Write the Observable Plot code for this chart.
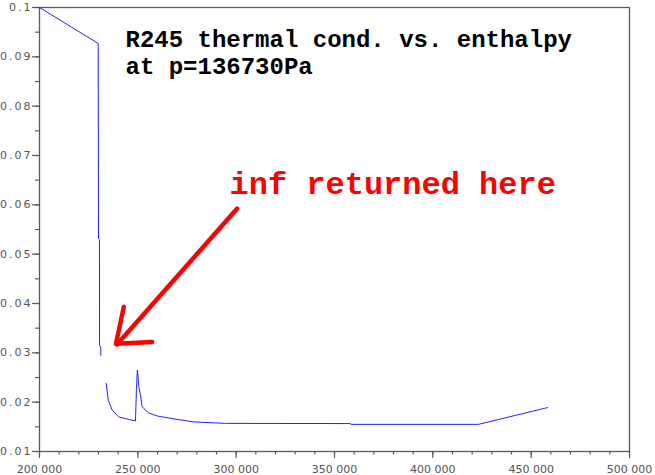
<!DOCTYPE html>
<html>
<head>
<meta charset="utf-8">
<script src="https://cdn.jsdelivr.net/npm/d3@7"></script>
<script src="https://cdn.jsdelivr.net/npm/@observablehq/plot@0.6"></script>
<style>
  body { margin: 0; background: #fff; }
  #chart svg g[aria-label="y-axis tick label"] text { letter-spacing: 2px; }
</style>
</head>
<body>
<div id="chart"></div>
<script>
// Enthalpy (J/kg) and thermal conductivity (W/m/K); null = "inf" returned (gap)
const enthalpy = [200000, 229850, 230000, 230500, 230550, 231150, 231200, 232500,
  233900, 234950, 236950, 240300, 245400, 248800, 249300, 249750, 250000, 250500,
  251350, 252200, 254800, 255600, 259850, 270000, 278300, 294600, 358100, 358300,
  423200, 458300];
const conductivity = [0.1, 0.0927, 0.0532, 0.0530, 0.0314, 0.0312, 0.0295, null,
  0.0238, 0.0204, 0.0184, 0.0170, 0.0165, 0.0162, 0.0228, 0.0265, 0.0258, 0.0231,
  0.0214, 0.0191, 0.0180, 0.0178, 0.0172, 0.0165, 0.0160, 0.0157, 0.01566, 0.0155,
  0.0155, 0.0189];

const xMajorTicks = [200000, 250000, 300000, 350000, 400000, 450000, 500000];
const xMinorTicks = d3.range(200000, 500001, 10000);
const yMajorTicks = [0.01, 0.02, 0.03, 0.04, 0.05, 0.06, 0.07, 0.08, 0.09, 0.1];
const yMinorTicks = d3.range(0.01, 0.1001, 0.005);

const titleLines = ["R245 thermal cond. vs. enthalpy", "at p=136730Pa"];
const noteText = ["inf returned here"];
const noteH = [296600];
const noteK = [0.0669];

// hand-drawn red arrow: stroke id, enthalpy, conductivity
const arrowStroke = [0, 0, 1, 1, 2, 2];
const arrowH = [300530, 239400, 242870, 238900, 238900, 257310];
const arrowK = [0.05924, 0.03170, 0.03931, 0.03186, 0.03186, 0.03222];

const lineData = enthalpy.map((h, i) => ({h, k: conductivity[i]}));
const arrowData = arrowH.map((h, i) => ({h, k: arrowK[i], s: arrowStroke[i]}));
const noteData = noteText.map((t, i) => ({t, h: noteH[i], k: noteK[i]}));

const axisColor = "#5a5a5a";
const fmtX = d => d3.format(",")(d).replace(/,/g, " ");
const fmtY = d => String(+d.toFixed(2));

const chart = Plot.plot({
  width: 655,
  height: 475,
  marginLeft: 39,
  marginRight: 26,
  marginTop: 7,
  marginBottom: 24,
  style: {fontFamily: "DejaVu Sans", fontSize: "11px", color: axisColor, background: "#fff"},
  x: {domain: [200000, 500000], label: null},
  y: {domain: [0.01, 0.1], label: null},
  marks: [
    Plot.axisX(xMinorTicks, {tickSize: 3.5, tickFormat: () => "", label: null, stroke: axisColor, strokeWidth: 1.2}),
    Plot.axisX(xMajorTicks, {tickSize: 7, tickPadding: 7, tickFormat: fmtX, label: null, stroke: axisColor, strokeWidth: 1.2, fill: "#555"}),
    Plot.axisY(yMinorTicks, {tickSize: 4, tickFormat: () => "", label: null, stroke: axisColor, strokeWidth: 1.2}),
    Plot.axisY(yMajorTicks, {tickSize: 7, tickPadding: 0, tickFormat: fmtY, label: null, stroke: axisColor, strokeWidth: 1.2, fill: "#555"}),
    Plot.frame({stroke: axisColor, strokeWidth: 1.3}),
    Plot.line(lineData, {x: "h", y: "k", stroke: "#2323ff", strokeWidth: 1}),
    Plot.line(arrowData, {x: "h", y: "k", z: "s", stroke: "#ff0000", strokeWidth: 4.5, strokeLinecap: "round"}),
    Plot.text([titleLines.join("\n")], {
      text: d => d, frameAnchor: "top-left", dx: 86, dy: 19.5, lineAnchor: "top",
      textAnchor: "start", fontFamily: "Liberation Mono", fontWeight: "bold",
      fontSize: 24, lineHeight: 1.146, fill: "#000"
    }),
    Plot.text(noteData, {
      x: "h", y: "k", text: "t", lineAnchor: "top", textAnchor: "start",
      fontFamily: "Liberation Mono", fontWeight: "bold", fontSize: 32, fill: "#ff0000"
    })
  ]
});
document.getElementById("chart").appendChild(chart);
</script>
</body>
</html>
